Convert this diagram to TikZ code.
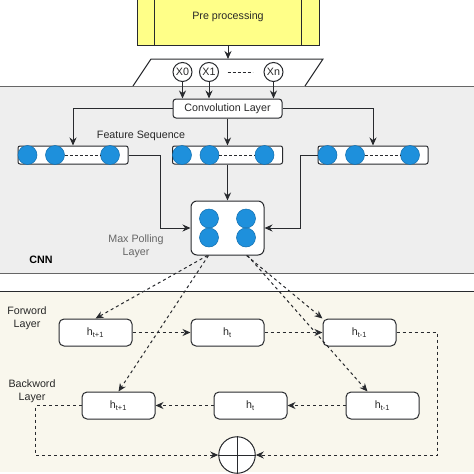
\documentclass[tikz,border=0pt]{standalone}
\usepackage{fontspec}
\setmainfont{Liberation Sans}
\usetikzlibrary{arrows.meta}
\definecolor{ink}{RGB}{40,40,40}
\definecolor{dotblue}{RGB}{30,144,220}
\definecolor{dotline}{RGB}{16,110,175}
\definecolor{padyellow}{RGB}{255,255,136}
\definecolor{cnngray}{RGB}{238,238,238}
\definecolor{rnnbeige}{RGB}{249,247,237}
\definecolor{edge}{RGB}{40,42,46}
\definecolor{lightink}{RGB}{102,102,102}

\begin{document}
\begin{tikzpicture}[x=1pt, y=-1pt, line width=1pt, draw=edge,
    >={Stealth[length=8pt,width=7pt]},
    every node/.style={font=\fontsize{10.7}{12.6}\selectfont, text=ink},
    rbox/.style={draw=edge, fill=white, rounded corners=3pt, inner sep=0pt},
    hcell/.style={rbox, rounded corners=5pt, minimum width=73pt, minimum height=27pt},
    dot/.style={circle, draw=dotline, line width=0.5pt, fill=dotblue, minimum size=19pt, inner sep=0pt},
    xin/.style={circle, draw=edge, fill=white, minimum size=19pt, inner sep=0pt},
    dlink/.style={dash pattern=on 3pt off 3pt}]
    \clip (0,0) rectangle (474,474);

    % background regions
    \fill[cnngray] (0,86) rectangle (474,273);
    \draw[lightink] (0,86) -- (474,86) (0,273) -- (474,273);
    \fill[rnnbeige] (0,291) rectangle (474,472);
    \draw[edge] (0,291) -- (474,291);

    % pre processing and input
    \node[draw=edge, fill=padyellow, minimum width=182pt, minimum height=56pt, inner sep=0pt] (pre) at (228,17) {Pre processing};
    \draw ([xshift=18pt]pre.north west) -- ([xshift=18pt]pre.south west)
          ([xshift=-18pt]pre.north east) -- ([xshift=-18pt]pre.south east);
    \draw[fill=white] (133,86) -- (151,59) -- (323,59) -- (305,86);
    \coordinate (inp) at (228,59);
    \draw[->] (pre) -- (inp);
    \foreach \n/\x/\t in {x0/182.5/X0, x1/209/X1, xn/273.5/Xn}
        \node[xin] (\n) at (\x,72) {\t};
    \draw[dash pattern=on 3pt off 2pt, line width=0.7pt, shorten <=8.5pt, shorten >=11pt] (x1) -- (xn);

    % CNN
    \node[rbox, minimum width=109pt, minimum height=19pt] (conv) at (227.5,108.5) {Convolution Layer};
    \foreach \n in {x0,x1,xn}
        \draw[->] (\n) -- (\n |- conv.north);

    \node (fslabel) at (141,136) {Feature Sequence};
    \foreach \n/\x in {feat1/73, feat2/227.5, feat3/373} {
        \node[rbox, rounded corners=2pt, minimum width=110pt, minimum height=18pt] (\n) at (\x,155) {};
        \foreach \k/\dx in {a/-45.5, b/-18, c/37}
            \node[dot] (\n\k) at ({\x+\dx},155) {};
        \draw[dash pattern=on 3pt off 2pt, line width=0.7pt] (\n b) -- (\n c);
    }
    \draw[->] (conv.west) -| (feat1.north);
    \draw[->] (conv.east) -| (feat3.north);
    \draw[->] (conv) -- (feat2);

    \node[rbox, rounded corners=6pt, minimum width=73pt, minimum height=54pt] (pool) at (227.5,228) {};
    \foreach \n/\dx/\dy in {p1/-18.5/-9.5, p2/-18.5/9.5, p3/18.5/-9.5, p4/18.5/9.5}
        \node[dot] (\n) at ({227.5+\dx},{228+\dy}) {};
    \draw[->] (feat2) -- (pool);
    \draw[->] (feat1.east) -- ++(32,0) |- (pool.west);
    \draw[->] (feat3.west) -- ++(-17,0) |- (pool.east);

    \node[text=lightink, align=center] (poollabel) at (136,246) {Max Polling\\Layer};
    \node[text=black] (cnn) at (41,260) {\bfseries CNN};

    % bidirectional layers
    \node[align=center] (fwlabel) at (27,318.5) {Forword\\Layer};
    \node[align=center] (bwlabel) at (32,391) {Backword\\Layer};
    \foreach \n/\x/\s in {f1/95.5/t+1, f2/227.5/t, f3/359.5/t-1}
        \node[hcell] (\n) at (\x,332.5) {h\textsubscript{\s}};
    \foreach \n/\x/\s in {b1/118.5/t+1, b2/250.5/t, b3/382.5/t-1}
        \node[hcell] (\n) at (\x,405.5) {h\textsubscript{\s}};

    \node[circle, draw=edge, fill=white, minimum size=36.5pt, inner sep=0pt] (sum) at (237,455) {};
    \draw (sum.north) -- (sum.south) (sum.west) -- (sum.east);

    \draw[->, dlink] (f1) -- (f2);
    \draw[->, dlink] (f2) -- (f3);
    \draw[->, dlink] (b3) -- (b2);
    \draw[->, dlink] (b2) -- (b1);
    \draw[->, dlink] (f3.east) -- ++(41,0) |- (sum.east);
    \draw[->, dlink] (b1.west) -- ++(-46,0) |- (sum.west);

    \draw[->, dlink] ([xshift=-20pt]pool.south) -- (f1.north);
    \draw[->, dlink] ([xshift=-19pt]pool.south) -- (b1.north);
    \draw[->, dlink] ([xshift=19pt]pool.south) -- (f3.north west);
    \draw[->, dlink] ([xshift=20pt]pool.south) -- ([xshift=-15pt]b3.north);
\end{tikzpicture}
\end{document}
